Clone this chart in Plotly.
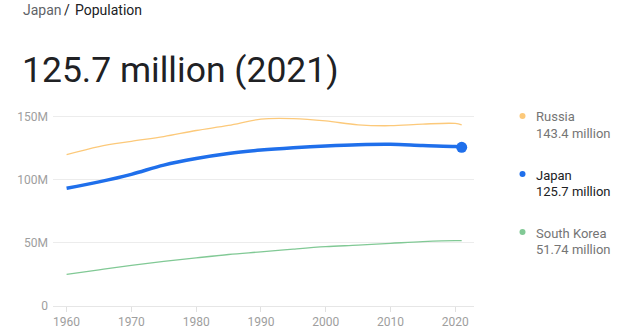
import plotly.graph_objects as go

years = [1960, 1965, 1970, 1975, 1980, 1985, 1990, 1995, 2000, 2005, 2010, 2015, 2020, 2021]
japan = [93.2, 98.3, 104.3, 111.6, 116.8, 120.8, 123.5, 125.4, 126.8, 127.8, 128.1, 127.1, 126.3, 125.7]
russia = [119.9, 126.3, 130.4, 134.2, 139.0, 143.0, 148.0, 148.4, 146.6, 143.5, 142.8, 144.1, 144.6, 143.4]
korea = [25.0, 28.7, 32.2, 35.3, 38.1, 40.8, 42.9, 45.1, 47.0, 48.2, 49.6, 51.0, 51.8, 51.74]

y_ticks = [0, 50, 100, 150]
y_ticktext = ["0", "50M", "100M", "150M"]
x_ticks = [1960, 1970, 1980, 1990, 2000, 2010, 2020]

legend_names = ["Russia", "Japan", "South Korea"]
legend_values = ["143.4 million", "125.7 million", "51.74 million"]

C_RU = "#FCC97A"
C_JP = "#1F6FEB"
C_KR = "#81C995"

fig = go.Figure()
fig.add_trace(go.Scatter(x=years, y=[v * 1e6 for v in russia], mode="lines",
                         line=dict(color=C_RU, width=1.3, shape="spline"), hoverinfo="skip"))
fig.add_trace(go.Scatter(x=years, y=[v * 1e6 for v in korea], mode="lines",
                         line=dict(color=C_KR, width=1.3, shape="spline"), hoverinfo="skip"))
fig.add_trace(go.Scatter(x=years, y=[v * 1e6 for v in japan], mode="lines",
                         line=dict(color=C_JP, width=3.5, shape="spline"), hoverinfo="skip"))
fig.add_trace(go.Scatter(x=[years[-1]], y=[japan[-1] * 1e6], mode="markers",
                         marker=dict(color=C_JP, size=11), hoverinfo="skip"))

W, H = 627, 335
L, R, T, B = 53, 153, 104, 29
pw, ph = W - L - R, H - T - B


def px(x):
    return (x - L) / pw


def py(y):
    return (H - B - y) / ph


ann = []
crumbs = [("Japan", 21, "left", "#5f6368"), ("/", 67.3, "center", "#202124"), ("Population", 73, "left", "#202124")]
for txt, xx, anc, col in crumbs:
    ann.append(dict(x=px(xx), y=py(10), xref="paper", yref="paper", xanchor=anc, yanchor="middle",
                    showarrow=False, text=txt, font=dict(family="Roboto", size=14, color=col)))
ann.append(dict(x=px(20), y=py(70), xref="paper", yref="paper", xanchor="left", yanchor="middle",
                showarrow=False, text="125.7 million (2021)",
                font=dict(family="Roboto", size=35.5, color="#202124")))

shapes = []
rows = [117, 175, 233]
cols = [C_RU, C_JP, C_KR]
tcol = ["#757575", "#202124", "#757575"]
for i in range(3):
    shapes.append(dict(type="circle", xref="paper", yref="paper", xsizemode="pixel", ysizemode="pixel",
                       xanchor=px(522.5), yanchor=py(rows[i] - 1), x0=-3, x1=3, y0=-3, y1=3,
                       fillcolor=cols[i], line=dict(width=0)))
    ann.append(dict(x=px(534), y=py(rows[i]), xref="paper", yref="paper", xanchor="left", yanchor="middle",
                    showarrow=False, text=legend_names[i],
                    font=dict(family="Roboto", size=13, color=tcol[i])))
    ann.append(dict(x=px(534), y=py(rows[i] + 16.5), xref="paper", yref="paper", xanchor="left", yanchor="middle",
                    showarrow=False, text=legend_values[i],
                    font=dict(family="Roboto", size=13, color=tcol[i])))

fig.update_layout(
    width=W, height=H,
    margin=dict(l=L, r=R, t=T, b=B, autoexpand=False),
    paper_bgcolor="white", plot_bgcolor="white",
    showlegend=False,
    font=dict(family="Roboto", size=12, color="#9e9e9e"),
    annotations=ann, shapes=shapes,
    xaxis=dict(range=[1957.9, 2022.9], tickvals=x_ticks, showgrid=False, zeroline=False,
               automargin=False,
               showline=True, linecolor="#e6e6e6", linewidth=1,
               ticks="outside", ticklen=5, tickcolor="#e0e0e0", tickwidth=1,
               tickfont=dict(family="Roboto", size=12, color="#9e9e9e")),
    yaxis=dict(range=[0, 160e6], tickvals=[v * 1e6 for v in y_ticks], ticktext=y_ticktext,
               showgrid=True, gridcolor="#ececec", gridwidth=1, zeroline=False,
               automargin=False,
               ticks="", ticklabelstandoff=4,
               tickfont=dict(family="Roboto", size=12, color="#9e9e9e")),
)

fig.write_html("out.html")
